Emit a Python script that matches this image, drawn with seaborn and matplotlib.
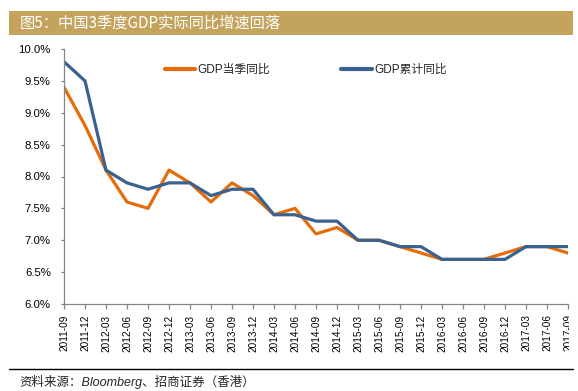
import matplotlib
matplotlib.use("Agg")
import matplotlib.pyplot as plt
from matplotlib.patches import Rectangle
from matplotlib.lines import Line2D
from matplotlib.transforms import Bbox, TransformedBbox
import pandas as pd
import seaborn as sns

quarters = [
    "2011-09", "2011-12", "2012-03", "2012-06", "2012-09", "2012-12",
    "2013-03", "2013-06", "2013-09", "2013-12", "2014-03", "2014-06",
    "2014-09", "2014-12", "2015-03", "2015-06", "2015-09", "2015-12",
    "2016-03", "2016-06", "2016-09", "2016-12", "2017-03", "2017-06",
    "2017-09",
]
gdp_quarter = [9.4, 8.8, 8.1, 7.6, 7.5, 8.1, 7.9, 7.6, 7.9, 7.7, 7.4, 7.5,
               7.1, 7.2, 7.0, 7.0, 6.9, 6.8, 6.7, 6.7, 6.7, 6.8, 6.9, 6.9, 6.8]
gdp_ytd = [9.8, 9.5, 8.1, 7.9, 7.8, 7.9, 7.9, 7.7, 7.8, 7.8, 7.4, 7.4,
           7.3, 7.3, 7.0, 7.0, 6.9, 6.9, 6.7, 6.7, 6.7, 6.7, 6.9, 6.9, 6.9]
series_names = ["GDP当季同比", "GDP累计同比"]
colors = ["#E46C0A", "#3A6190"]

title = "图5：中国3季度GDP实际同比增速回落"
source = "资料来源：Bloomberg、招商证券（香港）"

df = pd.concat([
    pd.DataFrame({"quarter": quarters, "value": gdp_quarter, "series": series_names[0]}),
    pd.DataFrame({"quarter": quarters, "value": gdp_ytd, "series": series_names[1]}),
])

sns.set_theme(style="white")
plt.rcParams["font.family"] = ["Liberation Sans", "Noto Sans CJK SC"]
plt.rcParams["axes.unicode_minus"] = False

fig = plt.figure(figsize=(5.78, 3.91), dpi=100)
W, H = 578, 391

# golden title bar
fig.patches.append(Rectangle((9 / W, 1 - 35 / H), (573 - 9) / W, 24 / H,
                             transform=fig.transFigure, facecolor="#C4A45C",
                             edgecolor="none", zorder=0))
fig.text(20 / W, 1 - 23 / H, title, color="white", fontsize=11,
         fontweight="medium", va="center", ha="left",
         family=["Noto Sans CJK SC", "Liberation Sans"])

ax = fig.add_axes([64 / W, 1 - 304 / H, (568 - 64) / W, (304 - 49) / H])
sns.lineplot(data=df, x="quarter", y="value", hue="series",
             hue_order=series_names, palette=colors, linewidth=2.3,
             sort=False, legend=False, ax=ax)

ax.set_xlim(0, len(quarters) - 1)
ax.set_ylim(6.0, 10.0)
ax.set_yticks([6.0, 6.5, 7.0, 7.5, 8.0, 8.5, 9.0, 9.5, 10.0])
ax.set_yticklabels([f"{v:.1f}%" for v in ax.get_yticks()])
ax.set_xticks(range(len(quarters)))
ax.set_xticklabels(quarters, rotation=90)
ax.set_xlabel("")
ax.set_ylabel("")

for side in ["top", "right"]:
    ax.spines[side].set_visible(False)
for side in ["left", "bottom"]:
    ax.spines[side].set_color("#868686")
    ax.spines[side].set_linewidth(0.9)
ax.tick_params(axis="y", length=2.5, width=0.9, color="#868686", pad=7,
               labelsize=8.2, labelcolor="black", left=True)
ax.tick_params(axis="x", length=3.5, width=0.9, color="#868686", pad=4,
               labelsize=7.2, labelcolor="black", bottom=True)

# last tick label is cut off at the right edge in the original
clip = TransformedBbox(Bbox([[0, 0], [569 / W, 1]]), fig.transFigure)
last = ax.get_xticklabels()[-1]
last.set_clip_on(True)
last.set_clip_box(clip)

handles = [Line2D([], [], color=c, linewidth=3) for c in colors]
ax.legend(handles, series_names, loc="center left",
          bbox_to_anchor=(154 / W, 1 - 70 / H), bbox_transform=fig.transFigure,
          ncol=2, frameon=False, fontsize=8.5, handlelength=2.6,
          handletextpad=0.2, columnspacing=6.0)

# bottom rule and source
fig.add_artist(Line2D([9 / W, 573 / W], [1 - 369 / H] * 2, color="black",
                      linewidth=1.0, transform=fig.transFigure))
fig.text(19 / W, 1 - 382 / H, source, fontsize=9, style="italic",
         va="center", ha="left")

fig.savefig("out.png", dpi=100)
